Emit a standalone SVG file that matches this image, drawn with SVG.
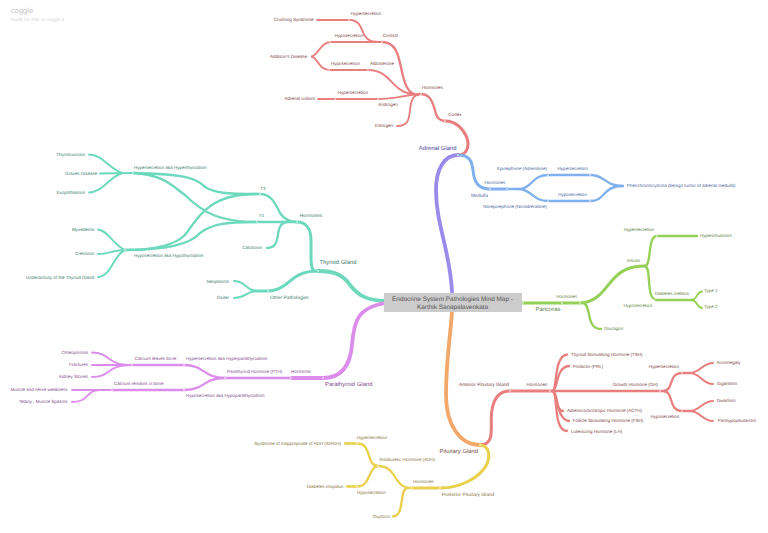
<svg xmlns="http://www.w3.org/2000/svg" width="768" height="533" viewBox="0 0 768 533">
<style>
text{font-family:"Liberation Sans",Arial,sans-serif;font-size:4.5px;text-rendering:geometricPrecision}
.g{font-size:5.9px}.m{font-size:4.85px}
.e{text-anchor:end}.c{text-anchor:middle}
.lnk path{fill:none;stroke-linecap:round}
.w1{stroke-width:1.9}.w2{stroke-width:2.3}.w3{stroke-width:3}.w4{stroke-width:3.8}
.red{stroke:#e87e7e}.teal{stroke:#6cd8bc}.pur{stroke:#dc8cea}.blue{stroke:#80b0ee}.grn{stroke:#94d055}.org{stroke:#f3a768}.yel{stroke:#e9d04c}.vio{stroke:#9b8aea}
.tr{fill:#7a3f45}.tt{fill:#3a7a6d}.tp{fill:#7f4a8b}.tb{fill:#46659a}.tg{fill:#5f7d40}.ty{fill:#80733a}.tv{fill:#4d3f9a}
.dot{fill:#fff}
</style>
<rect width="768" height="533" fill="#fff"/>
<g id="connectors" class="lnk">
<path class="vio w4" d="M452 292C450 250 436 225 436 190C436 168 445 155 458 155"/>
<path class="red w3" d="M458 155C469 155 469 143 467 138C463 128 455 121 445 121"/>
<path class="red w2" d="M445 121C435 120 436 112 434 107C431 98 428 94 420 94"/>
<path class="red w2" d="M418 95C408 94 405 85 402 72C399 60 398 42 382 42"/>
<path class="red w1" d="M382 42C372 42 368 41 365 36C362 32 361 20 350 20L317 20"/>
<path class="red w1" d="M382 42L331 42C320 42 318 56.500 311 56.500C318 57 318 70 330 70L368 70C385 70 390 82 398 88C404 93 410 94 418 95"/>
<path class="red w1" d="M318 99L377 99C395 99 405 95 420 94"/>
<path class="red w1" d="M397 126C408 126 409 120 410 110C411 100 413 95 420 94"/>
<path class="blue w3" d="M458 155C470 155 472 162 473 170C474 182 478 189 490 189L507 189"/>
<path class="blue w2" d="M507 189L518 189C532 189 532 175 548 175L590 175C606 175 604 186 623 186"/>
<path class="blue w2" d="M518 189C532 189 532 201 548 201L590 201C606 201 602 186 623 186"/>
<path class="grn w3" d="M522 303L580 303C597 303 605 288 610 283C620 270 630 266 645 266"/>
<path class="grn w2" d="M645 266C652 265 647 236 657 236L697 236"/>
<path class="grn w2" d="M645 266C652 267 645 300 657 300L693 300"/>
<path class="grn w1" d="M692 300C698 299 696 292 702 291.500"/>
<path class="grn w1" d="M692 300C698 301 696 307 702 308"/>
<path class="grn w2" d="M583 303C592 304 585 329 601 329"/>
<path class="org w4" d="M452 312C450 340 446 360 446 395C446 425 460 445 480 445"/>
<path class="red w3" d="M480 445C497 445 489 423 492 410C494 397 500 391 510 391L552 391"/>
<path class="red w2" d="M552 391L665 391"/>
<path class="red w2" d="M553 391C557 388 554 356 567 354.500"/>
<path class="red w2" d="M553 391C558 388 556 367 569 366"/>
<path class="red w2" d="M553 391C558 393 555 411 563 411"/>
<path class="red w2" d="M553 391C558 394 556 419 569 421"/>
<path class="red w2" d="M553 391C558 394 553 431 567 431"/>
<path class="red w2" d="M664 391C674 390 668 373 682 373L690 373"/>
<path class="red w2" d="M664 391C674 392 668 411 682 411L690 411"/>
<path class="red w1" d="M689 373C701 373 702 363 713 363"/>
<path class="red w1" d="M689 373C701 373 702 384 713 384"/>
<path class="red w1" d="M689 411C701 411 702 401 713 401"/>
<path class="red w1" d="M689 411C701 411 702 421 713 421"/>
<path class="yel w3" d="M480 445C490 446 490 456 487 464C480 478 460 488 440 488L412 488"/>
<path class="yel w2" d="M412 488C392 488 398 466 378 466"/>
<path class="yel w2" d="M378 466C365 465 373 443.500 357 443.500L345 443.500"/>
<path class="yel w2" d="M378 466C368 467 371 486.500 357 486.500L347 486.500"/>
<path class="yel w2" d="M407 488C399 490 405 516 393 516.500"/>
<path class="teal w4" d="M385 301C365 300 358 295 350 285C343 275 335 271 318 271"/>
<path class="teal w3" d="M318 271C298 271 292 280 285 285C278 290 272 291 268 291L255 291"/>
<path class="teal w1" d="M257 291C246 291 246 281 234 281"/>
<path class="teal w1" d="M257 291C246 291 246 298 234 298"/>
<path class="teal w3" d="M314 271C311 268 311 262 311 258L311 240C311 230 307 222 297 222"/>
<path class="teal w2" d="M297 222C290 222 284 219 280 213C276 205 272 194 260 194C225 194 215 193 205 187C195 175 170 174 133 173"/>
<path class="teal w2" d="M297 222L257 222C220 222 203 213 185 195C172 186 165 175 133 173"/>
<path class="teal w2" d="M287 222C272 224 284 248 267 248"/>
<path class="teal w2" d="M125 250C155 250 175 245 185 235C200 215 210 194 257 194"/>
<path class="teal w2" d="M125 250C165 250 190 245 200 233C212 224 225 222 257 222"/>
<path class="teal w1" d="M122 173C108 168 103 155 89 154.500"/>
<path class="teal w1" d="M133 173L100 173.500"/>
<path class="teal w1" d="M122 173C108 178 103 192 89 192.500"/>
<path class="teal w1" d="M125 250C113 245 108 230 98 229.500"/>
<path class="teal w1" d="M125 250C112 250 110 254 98 254"/>
<path class="teal w1" d="M125 250C113 255 112 276 98 277"/>
<path class="pur w4" d="M385 303C358 308 354 320 352 345C350 368 340 378 323 378"/>
<path class="pur w4" d="M323 378L292 378"/>
<path class="pur w2" d="M292 378L225 378"/>
<path class="pur w2" d="M225 378C203 378 205 365 184 365L132 365"/>
<path class="pur w1" d="M132 365C105 365 112 353 92 352.500"/>
<path class="pur w1" d="M132 365L92 365"/>
<path class="pur w1" d="M132 365C105 365 112 377 92 377"/>
<path class="pur w2" d="M225 378C203 378 205 390 184 390L112 390"/>
<path class="pur w1" d="M112 390L72 390"/>
<path class="pur w1" d="M100 390C85 390 90 402 72 402"/>
<circle class="dot" r=".8" cx="458" cy="155"/><circle class="dot" r=".8" cx="445" cy="121"/><circle class="dot" r=".8" cx="421" cy="94"/><circle class="dot" r=".8" cx="382" cy="42"/><circle class="dot" r=".8" cx="349" cy="20"/><circle class="dot" r=".8" cx="330" cy="42"/><circle class="dot" r=".8" cx="329" cy="70"/><circle class="dot" r=".8" cx="368" cy="70"/><circle class="dot" r=".8" cx="335" cy="99"/><circle class="dot" r=".8" cx="378" cy="99"/><circle class="dot" r=".8" cx="490" cy="189"/><circle class="dot" r=".8" cx="507" cy="189"/><circle class="dot" r=".8" cx="548" cy="175"/><circle class="dot" r=".8" cx="590" cy="175"/><circle class="dot" r=".8" cx="548" cy="201"/><circle class="dot" r=".8" cx="590" cy="201"/><circle class="dot" r=".8" cx="523" cy="303"/><circle class="dot" r=".8" cx="562" cy="303"/><circle class="dot" r=".8" cx="580" cy="303"/><circle class="dot" r=".8" cx="657" cy="236"/><circle class="dot" r=".8" cx="654" cy="300"/><circle class="dot" r=".8" cx="510" cy="391"/><circle class="dot" r=".8" cx="550" cy="391"/><circle class="dot" r=".8" cx="660" cy="391"/><circle class="dot" r=".8" cx="682" cy="373"/><circle class="dot" r=".8" cx="682" cy="411"/><circle class="dot" r=".8" cx="440" cy="488"/><circle class="dot" r=".8" cx="412" cy="488"/><circle class="dot" r=".8" cx="378" cy="466"/><circle class="dot" r=".8" cx="357" cy="443.500"/><circle class="dot" r=".8" cx="357" cy="486.500"/><circle class="dot" r=".8" cx="480" cy="445"/><circle class="dot" r=".8" cx="318" cy="271"/><circle class="dot" r=".8" cx="297" cy="222"/><circle class="dot" r=".8" cx="268" cy="291"/><circle class="dot" r=".8" cx="260" cy="194"/><circle class="dot" r=".8" cx="257" cy="222"/><circle class="dot" r=".8" cx="133" cy="173"/><circle class="dot" r=".8" cx="125" cy="250"/><circle class="dot" r=".8" cx="323" cy="378"/><circle class="dot" r=".8" cx="291" cy="378"/><circle class="dot" r=".8" cx="225" cy="378"/><circle class="dot" r=".8" cx="184" cy="365"/><circle class="dot" r=".8" cx="132" cy="365"/><circle class="dot" r=".8" cx="184" cy="390"/><circle class="dot" r=".8" cx="112" cy="390"/>
</g>
<g id="root"><rect x="384" y="293" width="138" height="19" fill="#ccc"/>
<text x="452.500" y="300.500" class="c" fill="#555" style="font-size:6.4px">Endocrine System Pathologies Mind Map -</text>
<text x="452.500" y="308.500" class="c" fill="#555" style="font-size:6.4px">Karthik Sanapalavenkata</text></g>
<g id="adrenal" class="tr">
<text x="313.500" y="21" class="e">Crushing Syndrome</text>
<text x="366" y="15" class="c">Hypersecretion</text>
<text x="349" y="36.600" class="c">Hyposecretion</text>
<text x="390.500" y="36.600" class="c">Cortisol</text>
<text x="307" y="58" class="e">Addison's Disease</text>
<text x="345.500" y="65" class="c">Hyposecretion</text>
<text x="382" y="65" class="c">Aldosterone</text>
<text x="353" y="94" class="c">Hypersecretion</text>
<text x="315" y="100" class="e">Adrenal virilism</text>
<text x="388" y="106" class="c">Androgen</text>
<text x="393" y="127" class="e">Estrogen</text>
<text x="432.500" y="88.600" class="c">Hormones</text>
<text x="455" y="115.600" class="c">Cortex</text>
</g>
<g id="adrenal-gland" class="tv"><text x="437.700" y="149.500" class="c g">Adrenal Gland</text></g>
<g id="medulla" class="tb">
<text x="522" y="170" class="c">Epinephrine (Adrenaline)</text>
<text x="572.700" y="170" class="c">Hypersecretion</text>
<text x="626.700" y="187">Pheochromocytoma (benign tumor of adrenal medulla)</text>
<text x="572.700" y="195.600" class="c">Hyposecretion</text>
<text x="515" y="207.600" class="c">Norepinephrine (Noradrenaline)</text>
<text x="495" y="184" class="c">Hormones</text>
<text x="479.500" y="196.700" class="c m">Medulla</text>
</g>
<g id="pancreas" class="tg">
<text x="639" y="230.500" class="c">Hypersecretion</text>
<text x="700" y="237">Hyperinsulinism</text>
<text x="633.500" y="261.500" class="c">Insulin</text>
<text x="672" y="294.500" class="c">Diabetes mellitus</text>
<text x="704" y="292">Type 1</text>
<text x="704" y="308">Type 2</text>
<text x="638" y="307" class="c">Hyposecretion</text>
<text x="566.700" y="297.600" class="c">Hormones</text>
<text x="548" y="311" class="c g">Pancreas</text>
<text x="604" y="329.600">Glucagon</text>
</g>
<g id="anterior" class="tr">
<text x="571" y="356">Thyroid Stimulating Hormone (TSH)</text>
<text x="572.700" y="367.600">Prolactin (PRL)</text>
<text x="664" y="368" class="c">Hypersecretion</text>
<text x="716.700" y="364">Acromegaly</text>
<text x="635.300" y="386" class="c">Growth Hormone (GH)</text>
<text x="716.700" y="385">Gigantism</text>
<text x="484" y="385.600" class="c m">Anterior Pituitary Gland</text>
<text x="537" y="386" class="c">Hormones</text>
<text x="716.700" y="402">Dwarfism</text>
<text x="665" y="418" class="c">Hyposecretion</text>
<text x="567" y="412">Adrenocorticotropic Hormone (ACTH)</text>
<text x="572.700" y="422">Follicle Stimulating Hormone (FSH)</text>
<text x="571" y="432.600">Luteinizing Hormone (LH)</text>
<text x="717.700" y="422">Panhypopituitarism</text>
<text x="458.800" y="452.800" class="c g" fill="#7a4f45">Pituitary Gland</text>
</g>
<g id="posterior" class="ty">
<text x="341" y="445" class="e">Syndrome of Inappropriate of ADH (SIADH)</text>
<text x="372" y="439" class="c">Hypersecretion</text>
<text x="407" y="461" class="c">Antidiuretic Hormone (ADH)</text>
<text x="423.300" y="483" class="c">Hormones</text>
<text x="343.300" y="488" class="e">Diabetes insipidus</text>
<text x="371.500" y="494" class="c">Hyposecretion</text>
<text x="468" y="495.600" class="c m">Posterior Pituitary Gland</text>
<text x="390" y="518" class="e">Oxytocin</text>
</g>
<g id="thyroid" class="tt">
<text x="85" y="156" class="e">Thyrotoxicosis</text>
<text x="97" y="175" class="e">Graves Disease</text>
<text x="85" y="194" class="e">Exophthalmos</text>
<text x="134" y="169">Hypersecretion aka Hyperthyroidism</text>
<text x="263" y="189.600" class="c">T3</text>
<text x="261.500" y="217" class="c">T4</text>
<text x="311" y="216.700" class="c m">Hormones</text>
<text x="262" y="249" class="e">Calcitonin</text>
<text x="134" y="256.600">Hyposecretion aka Hypothyroidism</text>
<text x="94" y="231" class="e">Myxedema</text>
<text x="94" y="255" class="e">Cretinism</text>
<text x="94" y="278.600" class="e">Underactivity of the Thyroid Gland</text>
<text x="229" y="282.600" class="e">Neoplasms</text>
<text x="229" y="298.600" class="e">Goiter</text>
<text x="270" y="298.700" class="m">Other Pathologies</text>
<text x="338" y="264" class="c g">Thyroid Gland</text>
</g>
<g id="parathyroid" class="tp">
<text x="88" y="354" class="e">Osteoporosis</text>
<text x="88" y="366" class="e">Fractures</text>
<text x="88" y="378" class="e">Kidney Stones</text>
<text x="67.500" y="391" class="e">Muscle and nerve weakness</text>
<text x="67.500" y="403" class="e">Tetany , Muscle Spasms</text>
<text x="155.500" y="360" class="c">Calcium leaves bone</text>
<text x="186" y="360">Hypersecretion aka Hyperparathyroidism</text>
<text x="114" y="385">Calcium remains in bone</text>
<text x="186" y="397">Hyposecretion aka Hypoparathyroidism</text>
<text x="227" y="372.600">Parathyroid hormone (PTH)</text>
<text x="291" y="372.700" class="m">Hormone</text>
<text x="325" y="386" class="g">Parathyroid Gland</text>
</g>
<g id="logo"><text x="11" y="12.500" fill="#c4c4c4" style="font-size:7.500px">coggle</text><text x="11" y="20.500" fill="#d4d4d4" style="font-size:4.800px">made for free at coggle.it</text></g>
</svg>
